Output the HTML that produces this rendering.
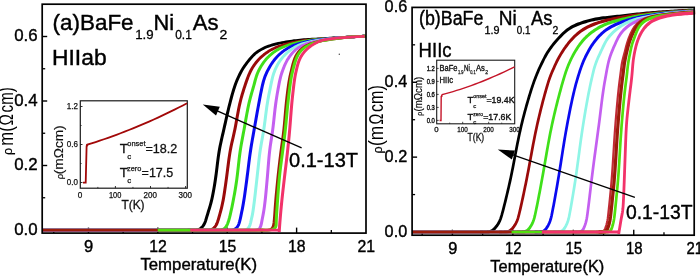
<!DOCTYPE html>
<html lang="en">
<head>
<meta charset="utf-8">
<title>Resistivity vs temperature</title>
<style>
html,body{margin:0;padding:0;background:#fff;}
body{width:700px;height:276px;overflow:hidden;}
svg text{font-family:"Liberation Sans",Arial,sans-serif;}
</style>
</head>
<body>
<svg width="700" height="276" viewBox="0 0 700 276" font-family='"Liberation Sans", Arial, sans-serif' style="display:block">
<rect x="0" y="0" width="700" height="276" fill="#fff"/>
<g id="panelA">
<line x1="88.46" y1="233.1" x2="88.46" y2="227.6" stroke="#000" stroke-width="1.4" />
<line x1="157.84" y1="233.1" x2="157.84" y2="227.6" stroke="#000" stroke-width="1.4" />
<line x1="227.23" y1="233.1" x2="227.23" y2="227.6" stroke="#000" stroke-width="1.4" />
<line x1="296.61" y1="233.1" x2="296.61" y2="227.6" stroke="#000" stroke-width="1.4" />
<line x1="53.76" y1="233.1" x2="53.76" y2="230.1" stroke="#000" stroke-width="1.3" />
<line x1="123.15" y1="233.1" x2="123.15" y2="230.1" stroke="#000" stroke-width="1.3" />
<line x1="192.54" y1="233.1" x2="192.54" y2="230.1" stroke="#000" stroke-width="1.3" />
<line x1="261.92" y1="233.1" x2="261.92" y2="230.1" stroke="#000" stroke-width="1.3" />
<line x1="331.31" y1="233.1" x2="331.31" y2="230.1" stroke="#000" stroke-width="1.3" />
<line x1="42.2" y1="230" x2="47.2" y2="230" stroke="#000" stroke-width="1.4" />
<line x1="42.2" y1="165.5" x2="47.2" y2="165.5" stroke="#000" stroke-width="1.4" />
<line x1="42.2" y1="101" x2="47.2" y2="101" stroke="#000" stroke-width="1.4" />
<line x1="42.2" y1="36.5" x2="47.2" y2="36.5" stroke="#000" stroke-width="1.4" />
<line x1="42.2" y1="197.75" x2="45.2" y2="197.75" stroke="#000" stroke-width="1.3" />
<line x1="42.2" y1="133.25" x2="45.2" y2="133.25" stroke="#000" stroke-width="1.3" />
<line x1="42.2" y1="68.75" x2="45.2" y2="68.75" stroke="#000" stroke-width="1.3" />
<path d="M42,230.2 L190.7,230.2" fill="none" stroke="#000000" stroke-width="2.7"/>
<path transform="scale(1.1,1.0)" d="M170.64,230.2 L173.36,230.2 L175.19,230.2 L177.01,230.14 L178.83,229.94 L180.54,229.48 L182.11,228.61 L183.53,227.3 L184.74,225.73 L185.69,224.05 L186.41,222.27 L187.02,220.36 L187.57,218.41 L188.1,216.47 L188.63,214.55 L189.15,212.64 L189.68,210.72 L190.22,208.81 L190.75,206.9 L191.24,204.98 L191.72,203.06 L192.17,201.12 L192.59,199.18 L192.98,197.23 L193.35,195.27 L193.7,193.31 L194.04,191.34 L194.36,189.37 L194.67,187.4 L194.97,185.42 L195.26,183.44 L195.54,181.47 L195.81,179.49 L196.07,177.51 L196.32,175.53 L196.56,173.54 L196.79,171.56 L197.01,169.57 L197.24,167.58 L197.45,165.6 L197.67,163.61 L197.9,161.62 L198.13,159.64 L198.37,157.66 L198.62,155.68 L198.89,153.7 L199.17,151.73 L199.48,149.76 L199.8,147.8 L200.15,145.84 L200.51,143.88 L200.9,141.93 L201.29,139.97 L201.69,138.02 L202.1,136.07 L202.51,134.12 L202.92,132.17 L203.32,130.22 L203.73,128.27 L204.12,126.31 L204.52,124.36 L204.92,122.41 L205.31,120.46 L205.71,118.5 L206.11,116.55 L206.51,114.6 L206.92,112.65 L207.34,110.7 L207.76,108.76 L208.19,106.82 L208.63,104.88 L209.08,102.94 L209.53,101 L209.99,99.06 L210.46,97.13 L210.95,95.19 L211.44,93.26 L211.95,91.34 L212.48,89.42 L213.03,87.52 L213.61,85.63 L214.22,83.75 L214.87,81.89 L215.55,80.05 L216.27,78.22 L217.02,76.41 L217.8,74.61 L218.61,72.83 L219.46,71.08 L220.37,69.35 L221.33,67.66 L222.34,66.01 L223.4,64.38 L224.49,62.77 L225.62,61.18 L226.76,59.62 L227.94,58.08 L229.15,56.6 L230.41,55.17 L231.72,53.83 L233.11,52.58 L234.56,51.42 L236.07,50.35 L237.64,49.36 L239.25,48.44 L240.9,47.6 L242.57,46.82 L244.26,46.11 L245.98,45.47 L247.71,44.88 L249.46,44.35 L251.22,43.86 L252.99,43.41 L254.77,43 L256.55,42.61 L258.34,42.25 L260.14,41.91 L261.93,41.59 L263.73,41.28 L265.53,41 L267.33,40.73 L269.14,40.49 L270.94,40.26 L272.75,40.06 L274.56,39.89 L276.37,39.73 L278.19,39.59 L280,39.47 L281.82,39.35 L283.63,39.23 L285.45,39.12 L287.26,39.01 L289.08,38.9 L290.9,38.78 L292.71,38.67 L294.53,38.55 L296.34,38.43 L298.16,38.32 L299.97,38.2 L301.79,38.09 L303.6,37.97 L305.42,37.86 L307.23,37.74 L309.05,37.62 L310.86,37.5 L312.68,37.38 L314.49,37.26 L316.31,37.14 L318.12,37.01 L319.93,36.89 L321.74,36.76 L323.53,36.64 L325.3,36.53 L326.99,36.42 L328.57,36.31 L329.98,36.22 L331.18,36.15 L331.44,36.13" fill="none" stroke="#000000" stroke-width="2.75" stroke-linejoin="round"/>
<path d="M42,230.2 L203.9,230.2" fill="none" stroke="#9a0a0a" stroke-width="2.7"/>
<path transform="scale(1.1,1.0)" d="M182.64,230.2 L185.36,230.2 L187.19,230.2 L189.01,230.15 L190.83,229.94 L192.53,229.45 L194.02,228.49 L195.32,227.04 L196.37,225.36 L197.17,223.58 L197.81,221.7 L198.38,219.78 L198.91,217.85 L199.41,215.92 L199.89,213.99 L200.36,212.06 L200.84,210.13 L201.29,208.19 L201.71,206.25 L202.1,204.3 L202.48,202.35 L202.83,200.39 L203.15,198.42 L203.46,196.45 L203.75,194.48 L204.03,192.5 L204.3,190.52 L204.56,188.54 L204.82,186.56 L205.08,184.58 L205.33,182.6 L205.58,180.61 L205.83,178.63 L206.07,176.65 L206.31,174.66 L206.54,172.68 L206.77,170.69 L207,168.71 L207.23,166.72 L207.46,164.73 L207.69,162.75 L207.93,160.77 L208.18,158.79 L208.43,156.81 L208.71,154.83 L208.99,152.86 L209.3,150.89 L209.63,148.93 L209.97,146.97 L210.34,145.02 L210.73,143.06 L211.13,141.11 L211.54,139.16 L211.96,137.21 L212.36,135.26 L212.76,133.31 L213.14,131.35 L213.52,129.4 L213.87,127.43 L214.21,125.47 L214.55,123.5 L214.87,121.53 L215.19,119.56 L215.51,117.59 L215.83,115.61 L216.16,113.65 L216.49,111.68 L216.83,109.72 L217.19,107.76 L217.57,105.8 L217.96,103.86 L218.37,101.92 L218.81,99.98 L219.27,98.05 L219.76,96.12 L220.26,94.2 L220.78,92.29 L221.32,90.38 L221.87,88.47 L222.43,86.56 L223,84.66 L223.58,82.76 L224.17,80.87 L224.78,78.99 L225.41,77.11 L226.08,75.26 L226.79,73.42 L227.56,71.62 L228.39,69.85 L229.29,68.12 L230.26,66.43 L231.28,64.78 L232.36,63.18 L233.49,61.62 L234.68,60.12 L235.92,58.66 L237.21,57.27 L238.55,55.93 L239.94,54.65 L241.38,53.44 L242.86,52.29 L244.38,51.21 L245.94,50.19 L247.53,49.25 L249.16,48.37 L250.81,47.56 L252.49,46.8 L254.19,46.1 L255.91,45.45 L257.64,44.85 L259.38,44.29 L261.14,43.76 L262.9,43.28 L264.67,42.82 L266.45,42.4 L268.23,42 L270.02,41.64 L271.81,41.3 L273.6,41 L275.4,40.72 L277.21,40.47 L279.01,40.23 L280.82,40.02 L282.63,39.82 L284.44,39.63 L286.25,39.45 L288.06,39.28 L289.87,39.11 L291.69,38.96 L293.5,38.81 L295.31,38.66 L297.13,38.52 L298.94,38.38 L300.76,38.25 L302.57,38.11 L304.38,37.98 L306.2,37.85 L308.01,37.72 L309.83,37.59 L311.64,37.46 L313.46,37.33 L315.27,37.21 L317.09,37.08 L318.9,36.95 L320.71,36.83 L322.52,36.71 L324.31,36.59 L326.07,36.47 L327.78,36.36 L329.39,36.26 L330.87,36.17 L331.89,36.1" fill="none" stroke="#9a0a0a" stroke-width="2.75" stroke-linejoin="round"/>
<path d="M42,230.2 L215,230.2" fill="none" stroke="#3fe01a" stroke-width="2.7"/>
<path transform="scale(1.1,1.0)" d="M192.73,230.2 L195.45,230.2 L197.28,230.2 L199.1,230.15 L200.92,229.94 L202.61,229.43 L204.09,228.43 L205.34,226.95 L206.31,225.24 L207.04,223.43 L207.64,221.53 L208.17,219.58 L208.66,217.65 L209.1,215.7 L209.52,213.76 L209.92,211.81 L210.32,209.85 L210.7,207.9 L211.07,205.94 L211.43,203.98 L211.78,202.02 L212.12,200.05 L212.46,198.09 L212.79,196.12 L213.12,194.15 L213.43,192.18 L213.74,190.21 L214.04,188.24 L214.33,186.26 L214.61,184.29 L214.88,182.31 L215.14,180.33 L215.38,178.35 L215.61,176.37 L215.84,174.38 L216.05,172.4 L216.26,170.41 L216.46,168.42 L216.67,166.43 L216.86,164.44 L217.07,162.45 L217.27,160.47 L217.48,158.48 L217.7,156.49 L217.93,154.51 L218.18,152.53 L218.44,150.55 L218.71,148.58 L219,146.6 L219.31,144.63 L219.62,142.67 L219.95,140.7 L220.29,138.73 L220.63,136.77 L220.97,134.8 L221.3,132.83 L221.64,130.87 L221.97,128.9 L222.29,126.93 L222.61,124.96 L222.93,122.99 L223.24,121.02 L223.56,119.04 L223.88,117.07 L224.2,115.1 L224.53,113.14 L224.87,111.17 L225.21,109.21 L225.57,107.25 L225.95,105.3 L226.34,103.35 L226.76,101.41 L227.2,99.47 L227.66,97.54 L228.13,95.61 L228.63,93.68 L229.13,91.76 L229.64,89.84 L230.14,87.92 L230.64,85.99 L231.11,84.06 L231.58,82.13 L232.05,80.2 L232.54,78.28 L233.07,76.38 L233.66,74.5 L234.32,72.65 L235.06,70.84 L235.87,69.06 L236.75,67.31 L237.69,65.61 L238.68,63.94 L239.73,62.31 L240.83,60.73 L241.99,59.2 L243.2,57.72 L244.47,56.31 L245.8,54.95 L247.18,53.66 L248.61,52.44 L250.09,51.29 L251.61,50.22 L253.17,49.22 L254.78,48.3 L256.42,47.45 L258.08,46.67 L259.77,45.94 L261.48,45.27 L263.21,44.66 L264.95,44.08 L266.7,43.55 L268.46,43.06 L270.23,42.6 L272.01,42.17 L273.79,41.76 L275.57,41.39 L277.36,41.05 L279.16,40.73 L280.96,40.44 L282.76,40.18 L284.56,39.94 L286.37,39.72 L288.18,39.51 L289.99,39.32 L291.8,39.13 L293.61,38.95 L295.42,38.78 L297.23,38.61 L299.04,38.45 L300.86,38.3 L302.67,38.15 L304.48,38 L306.3,37.86 L308.11,37.73 L309.93,37.59 L311.74,37.46 L313.55,37.33 L315.37,37.2 L317.18,37.07 L319,36.95 L320.81,36.82 L322.61,36.7 L324.39,36.58 L326.13,36.47 L327.79,36.36 L329.32,36.27 L330.67,36.18 L331.55,36.12" fill="none" stroke="#3fe01a" stroke-width="2.75" stroke-linejoin="round"/>
<path d="M42,230.2 L226.2,230.2" fill="none" stroke="#0a0af0" stroke-width="2.7"/>
<path transform="scale(1.1,1.0)" d="M202.91,230.2 L205.64,230.2 L207.46,230.2 L209.28,230.15 L211.1,229.94 L212.82,229.45 L214.37,228.49 L215.66,227.08 L216.6,225.44 L217.27,223.62 L217.79,221.67 L218.25,219.69 L218.67,217.73 L219.05,215.77 L219.41,213.81 L219.77,211.84 L220.13,209.88 L220.48,207.92 L220.81,205.95 L221.13,203.98 L221.43,202.01 L221.73,200.04 L222.01,198.07 L222.28,196.09 L222.55,194.11 L222.8,192.13 L223.05,190.15 L223.3,188.17 L223.55,186.18 L223.79,184.2 L224.03,182.22 L224.27,180.24 L224.5,178.25 L224.73,176.27 L224.96,174.28 L225.19,172.3 L225.42,170.31 L225.64,168.33 L225.86,166.34 L226.09,164.36 L226.31,162.37 L226.54,160.39 L226.78,158.41 L227.02,156.42 L227.27,154.44 L227.52,152.46 L227.79,150.49 L228.06,148.51 L228.35,146.54 L228.64,144.56 L228.95,142.59 L229.26,140.62 L229.57,138.65 L229.89,136.68 L230.21,134.71 L230.53,132.74 L230.85,130.77 L231.16,128.8 L231.48,126.83 L231.8,124.86 L232.11,122.89 L232.43,120.92 L232.74,118.95 L233.06,116.99 L233.38,115.02 L233.7,113.05 L234.02,111.08 L234.35,109.11 L234.68,107.14 L235.01,105.18 L235.34,103.21 L235.68,101.25 L236.02,99.28 L236.36,97.31 L236.7,95.35 L237.05,93.38 L237.4,91.42 L237.77,89.46 L238.15,87.51 L238.54,85.55 L238.97,83.61 L239.42,81.68 L239.92,79.76 L240.47,77.87 L241.09,76 L241.78,74.16 L242.53,72.35 L243.33,70.56 L244.18,68.79 L245.06,67.05 L245.99,65.33 L246.96,63.65 L247.98,62.01 L249.06,60.4 L250.19,58.85 L251.38,57.34 L252.62,55.89 L253.91,54.49 L255.26,53.16 L256.65,51.89 L258.1,50.7 L259.59,49.57 L261.13,48.53 L262.71,47.56 L264.33,46.67 L265.98,45.85 L267.66,45.11 L269.36,44.44 L271.09,43.82 L272.83,43.26 L274.59,42.74 L276.35,42.26 L278.12,41.81 L279.9,41.39 L281.68,41.01 L283.47,40.66 L285.27,40.34 L287.06,40.06 L288.87,39.8 L290.67,39.56 L292.48,39.34 L294.29,39.14 L296.1,38.94 L297.91,38.75 L299.72,38.57 L301.53,38.39 L303.34,38.21 L305.15,38.04 L306.96,37.88 L308.78,37.72 L310.59,37.57 L312.4,37.43 L314.22,37.29 L316.03,37.15 L317.85,37.03 L319.66,36.9 L321.47,36.78 L323.28,36.66 L325.08,36.54 L326.87,36.42 L328.62,36.31 L330.34,36.2 L332,36.1 L332.41,36.07" fill="none" stroke="#0a0af0" stroke-width="2.75" stroke-linejoin="round"/>
<path d="M42,230.2 L238.9,230.2" fill="none" stroke="#8ff5e6" stroke-width="2.7"/>
<path transform="scale(1.1,1.0)" d="M214.45,230.2 L217.18,230.2 L219,230.2 L220.84,230.15 L222.66,229.94 L224.31,229.38 L225.65,228.22 L226.65,226.55 L227.33,224.71 L227.82,222.78 L228.23,220.81 L228.63,218.83 L229.03,216.87 L229.4,214.92 L229.73,212.95 L230.02,210.98 L230.28,209 L230.53,207.02 L230.77,205.03 L231,203.05 L231.23,201.07 L231.45,199.08 L231.66,197.1 L231.88,195.11 L232.09,193.12 L232.29,191.14 L232.5,189.15 L232.7,187.16 L232.91,185.17 L233.11,183.19 L233.32,181.2 L233.52,179.21 L233.72,177.22 L233.92,175.23 L234.11,173.24 L234.31,171.25 L234.5,169.27 L234.7,167.28 L234.89,165.29 L235.09,163.3 L235.29,161.31 L235.5,159.32 L235.71,157.34 L235.94,155.35 L236.17,153.37 L236.42,151.39 L236.69,149.42 L236.97,147.44 L237.27,145.47 L237.58,143.5 L237.9,141.53 L238.22,139.56 L238.55,137.6 L238.87,135.63 L239.18,133.66 L239.48,131.68 L239.76,129.71 L240.03,127.73 L240.29,125.75 L240.54,123.77 L240.77,121.79 L241.01,119.8 L241.24,117.82 L241.46,115.83 L241.69,113.85 L241.93,111.86 L242.17,109.88 L242.42,107.9 L242.68,105.92 L242.96,103.95 L243.25,101.97 L243.55,100 L243.87,98.04 L244.21,96.07 L244.56,94.11 L244.92,92.15 L245.28,90.19 L245.65,88.23 L246.01,86.27 L246.38,84.31 L246.74,82.35 L247.12,80.4 L247.53,78.45 L247.97,76.52 L248.48,74.61 L249.06,72.72 L249.7,70.86 L250.4,69.02 L251.16,67.21 L251.98,65.43 L252.86,63.7 L253.8,62.01 L254.82,60.36 L255.9,58.77 L257.05,57.24 L258.26,55.75 L259.52,54.31 L260.83,52.93 L262.19,51.61 L263.6,50.36 L265.06,49.18 L266.56,48.08 L268.11,47.06 L269.71,46.14 L271.35,45.29 L273.02,44.54 L274.72,43.86 L276.45,43.25 L278.19,42.71 L279.95,42.22 L281.72,41.78 L283.5,41.38 L285.29,41.02 L287.08,40.69 L288.88,40.38 L290.68,40.09 L292.48,39.82 L294.28,39.57 L296.09,39.32 L297.89,39.09 L299.7,38.86 L301.51,38.64 L303.32,38.42 L305.12,38.21 L306.93,38 L308.74,37.81 L310.55,37.63 L312.36,37.46 L314.17,37.3 L315.99,37.16 L317.8,37.03 L319.62,36.9 L321.43,36.78 L323.24,36.66 L325.05,36.54 L326.85,36.42 L328.63,36.31 L330.4,36.2 L332.13,36.09 L332.56,36.06" fill="none" stroke="#8ff5e6" stroke-width="2.75" stroke-linejoin="round"/>
<path d="M42,230.2 L250.6,230.2" fill="none" stroke="#c45ff0" stroke-width="2.7"/>
<path transform="scale(1.1,1.0)" d="M225.09,230.2 L227.82,230.2 L229.64,230.2 L231.48,230.15 L233.31,229.94 L234.91,229.34 L236.12,228.09 L236.95,226.31 L237.47,224.38 L237.83,222.41 L238.16,220.42 L238.51,218.45 L238.87,216.49 L239.22,214.53 L239.54,212.56 L239.83,210.59 L240.11,208.61 L240.37,206.63 L240.6,204.65 L240.82,202.66 L241.04,200.68 L241.24,198.69 L241.43,196.7 L241.61,194.71 L241.79,192.72 L241.95,190.73 L242.12,188.74 L242.28,186.74 L242.44,184.75 L242.6,182.76 L242.76,180.77 L242.92,178.77 L243.08,176.78 L243.23,174.79 L243.38,172.79 L243.52,170.8 L243.67,168.8 L243.81,166.81 L243.96,164.81 L244.11,162.82 L244.26,160.83 L244.42,158.83 L244.58,156.84 L244.76,154.85 L244.95,152.87 L245.15,150.88 L245.37,148.9 L245.6,146.92 L245.86,144.94 L246.12,142.96 L246.4,140.98 L246.68,139.01 L246.96,137.03 L247.24,135.05 L247.5,133.07 L247.75,131.09 L247.99,129.11 L248.22,127.13 L248.43,125.14 L248.64,123.15 L248.84,121.16 L249.04,119.17 L249.23,117.18 L249.42,115.19 L249.62,113.21 L249.82,111.22 L250.02,109.23 L250.24,107.25 L250.47,105.26 L250.71,103.28 L250.96,101.3 L251.22,99.33 L251.5,97.35 L251.8,95.38 L252.1,93.41 L252.42,91.44 L252.74,89.47 L253.07,87.5 L253.41,85.53 L253.75,83.57 L254.11,81.61 L254.49,79.66 L254.91,77.71 L255.38,75.79 L255.89,73.88 L256.46,71.98 L257.07,70.09 L257.72,68.23 L258.4,66.37 L259.12,64.54 L259.89,62.74 L260.73,60.97 L261.63,59.24 L262.59,57.56 L263.63,55.92 L264.74,54.35 L265.92,52.85 L267.18,51.42 L268.5,50.08 L269.9,48.83 L271.36,47.68 L272.89,46.64 L274.47,45.71 L276.11,44.88 L277.78,44.13 L279.49,43.47 L281.22,42.87 L282.97,42.33 L284.73,41.84 L286.5,41.39 L288.28,40.99 L290.07,40.63 L291.86,40.3 L293.66,40 L295.46,39.72 L297.26,39.46 L299.06,39.2 L300.87,38.95 L302.67,38.7 L304.48,38.46 L306.28,38.23 L308.09,37.99 L309.9,37.77 L311.7,37.57 L313.51,37.39 L315.32,37.22 L317.14,37.08 L318.95,36.94 L320.76,36.82 L322.57,36.7 L324.35,36.58 L326.1,36.47 L327.78,36.36 L329.35,36.26 L330.77,36.17 L331.71,36.11" fill="none" stroke="#c45ff0" stroke-width="2.75" stroke-linejoin="round"/>
<path d="M42,230.2 L263.2,230.2" fill="none" stroke="#9c1c0a" stroke-width="2.7"/>
<path transform="scale(1.1,1.0)" d="M236.54,230.2 L239.27,230.2 L241.1,230.2 L242.93,230.15 L244.76,229.94 L246.38,229.35 L247.63,228.12 L248.45,226.35 L248.9,224.43 L249.16,222.45 L249.35,220.43 L249.52,218.42 L249.67,216.42 L249.8,214.43 L249.93,212.43 L250.05,210.43 L250.17,208.44 L250.3,206.44 L250.44,204.45 L250.59,202.45 L250.73,200.46 L250.88,198.47 L251.04,196.47 L251.2,194.48 L251.36,192.49 L251.53,190.5 L251.7,188.51 L251.87,186.52 L252.05,184.53 L252.23,182.53 L252.41,180.55 L252.6,178.56 L252.78,176.57 L252.98,174.58 L253.18,172.59 L253.38,170.6 L253.58,168.62 L253.79,166.63 L254,164.64 L254.22,162.66 L254.43,160.67 L254.65,158.68 L254.88,156.7 L255.1,154.72 L255.33,152.73 L255.57,150.75 L255.81,148.76 L256.05,146.78 L256.3,144.8 L256.55,142.82 L256.8,140.84 L257.05,138.86 L257.29,136.88 L257.53,134.89 L257.75,132.91 L257.96,130.92 L258.16,128.94 L258.34,126.95 L258.52,124.96 L258.69,122.97 L258.85,120.97 L259,118.98 L259.15,116.99 L259.31,114.99 L259.46,113 L259.61,111.01 L259.77,109.01 L259.94,107.02 L260.11,105.03 L260.29,103.04 L260.48,101.05 L260.68,99.06 L260.88,97.08 L261.09,95.09 L261.32,93.1 L261.54,91.12 L261.78,89.14 L262.03,87.16 L262.29,85.18 L262.56,83.2 L262.86,81.23 L263.18,79.26 L263.52,77.3 L263.9,75.34 L264.3,73.39 L264.72,71.45 L265.14,69.5 L265.57,67.56 L266.01,65.62 L266.48,63.68 L266.98,61.77 L267.55,59.88 L268.19,58.02 L268.93,56.23 L269.79,54.51 L270.77,52.89 L271.87,51.37 L273.1,49.96 L274.45,48.67 L275.88,47.5 L277.4,46.44 L278.98,45.48 L280.61,44.62 L282.27,43.86 L283.98,43.18 L285.7,42.58 L287.45,42.05 L289.21,41.57 L290.99,41.14 L292.77,40.75 L294.56,40.4 L296.35,40.06 L298.15,39.75 L299.95,39.46 L301.75,39.18 L303.55,38.9 L305.35,38.63 L307.15,38.36 L308.95,38.09 L310.75,37.83 L312.55,37.59 L314.36,37.39 L316.17,37.21 L317.98,37.06 L319.79,36.92 L321.61,36.8 L323.42,36.68 L325.22,36.56 L326.99,36.45 L328.73,36.34 L330.42,36.23 L332.02,36.13 L332.79,36.08" fill="none" stroke="#9c1c0a" stroke-width="2.75" stroke-linejoin="round"/>
<path d="M157.7,230.2 L264.5,230.2" fill="none" stroke="#52e00c" stroke-width="2.7"/>
<path transform="scale(1.1,1.0)" d="M237.73,230.2 L240.45,230.2 L242.28,230.2 L244.1,230.15 L245.92,229.94 L247.7,229.46 L249.35,228.56 L250.49,227.23 L250.94,225.57 L251.06,223.63 L251.12,221.54 L251.18,219.45 L251.27,217.42 L251.38,215.42 L251.49,213.42 L251.62,211.43 L251.74,209.43 L251.87,207.44 L252,205.44 L252.12,203.44 L252.25,201.45 L252.38,199.45 L252.51,197.46 L252.64,195.46 L252.77,193.47 L252.91,191.47 L253.04,189.48 L253.18,187.48 L253.33,185.49 L253.48,183.5 L253.64,181.51 L253.81,179.52 L253.98,177.53 L254.17,175.54 L254.36,173.55 L254.57,171.56 L254.78,169.58 L255,167.59 L255.23,165.61 L255.46,163.62 L255.69,161.64 L255.93,159.66 L256.17,157.67 L256.41,155.69 L256.65,153.71 L256.88,151.72 L257.12,149.74 L257.35,147.76 L257.59,145.77 L257.82,143.79 L258.05,141.81 L258.28,139.82 L258.51,137.84 L258.73,135.85 L258.95,133.87 L259.16,131.88 L259.36,129.89 L259.55,127.9 L259.73,125.91 L259.91,123.92 L260.09,121.93 L260.26,119.94 L260.43,117.95 L260.59,115.96 L260.76,113.97 L260.93,111.98 L261.1,109.98 L261.28,107.99 L261.46,106 L261.65,104.02 L261.84,102.03 L262.04,100.04 L262.24,98.05 L262.46,96.07 L262.67,94.08 L262.9,92.1 L263.12,90.11 L263.35,88.13 L263.58,86.14 L263.82,84.16 L264.06,82.18 L264.33,80.2 L264.62,78.23 L264.95,76.27 L265.33,74.32 L265.73,72.38 L266.17,70.44 L266.62,68.5 L267.08,66.57 L267.55,64.64 L268.05,62.71 L268.6,60.81 L269.2,58.93 L269.88,57.11 L270.67,55.35 L271.58,53.67 L272.62,52.1 L273.79,50.63 L275.08,49.27 L276.47,48.03 L277.94,46.9 L279.48,45.87 L281.08,44.95 L282.73,44.12 L284.41,43.38 L286.11,42.72 L287.85,42.13 L289.6,41.62 L291.36,41.17 L293.14,40.76 L294.93,40.41 L296.72,40.08 L298.52,39.78 L300.32,39.49 L302.12,39.22 L303.93,38.94 L305.72,38.66 L307.52,38.37 L309.31,38.08 L311.11,37.8 L312.9,37.55 L314.71,37.33 L316.51,37.14 L318.32,36.99 L320.14,36.86 L321.95,36.73 L323.76,36.62 L325.55,36.5 L327.32,36.39 L329.04,36.28 L330.71,36.18 L332.3,36.08" fill="none" stroke="#52e00c" stroke-width="2.75" stroke-linejoin="round"/>
<path d="M190.3,230.2 L279.3,230.2" fill="none" stroke="#f2326a" stroke-width="2.8"/>
<path transform="scale(1.1,1.0)" d="M252.55,230.5 L253.91,230.5 L254.04,228.2 L254.17,226.21 L254.31,224.22 L254.45,222.22 L254.6,220.23 L254.75,218.23 L254.9,216.24 L255.06,214.25 L255.22,212.26 L255.38,210.26 L255.54,208.27 L255.71,206.28 L255.89,204.29 L256.07,202.3 L256.25,200.31 L256.44,198.32 L256.64,196.34 L256.84,194.35 L257.04,192.36 L257.24,190.37 L257.45,188.38 L257.66,186.4 L257.87,184.41 L258.08,182.42 L258.29,180.44 L258.5,178.45 L258.71,176.46 L258.92,174.48 L259.14,172.49 L259.35,170.51 L259.57,168.52 L259.79,166.53 L260,164.55 L260.22,162.56 L260.44,160.58 L260.65,158.59 L260.86,156.6 L261.07,154.62 L261.27,152.63 L261.47,150.64 L261.67,148.65 L261.86,146.67 L262.05,144.68 L262.24,142.69 L262.42,140.7 L262.6,138.71 L262.78,136.72 L262.95,134.72 L263.11,132.73 L263.27,130.74 L263.43,128.75 L263.58,126.76 L263.73,124.76 L263.87,122.77 L264.01,120.77 L264.15,118.78 L264.28,116.78 L264.42,114.79 L264.56,112.8 L264.7,110.8 L264.85,108.81 L265,106.82 L265.16,104.82 L265.32,102.83 L265.5,100.84 L265.68,98.85 L265.87,96.86 L266.07,94.88 L266.27,92.89 L266.48,90.9 L266.69,88.91 L266.9,86.93 L267.12,84.94 L267.34,82.96 L267.58,80.98 L267.84,79 L268.13,77.03 L268.45,75.07 L268.82,73.11 L269.2,71.16 L269.61,69.22 L270.04,67.28 L270.49,65.35 L271,63.44 L271.57,61.56 L272.24,59.73 L273,57.94 L273.87,56.21 L274.83,54.54 L275.89,52.94 L277.05,51.42 L278.28,49.99 L279.6,48.63 L280.98,47.35 L282.43,46.15 L283.92,45.02 L285.46,43.96 L287.04,42.99 L288.66,42.12 L290.31,41.37 L292.01,40.73 L293.74,40.19 L295.49,39.75 L297.27,39.39 L299.07,39.08 L300.87,38.81 L302.68,38.57 L304.49,38.36 L306.3,38.17 L308.11,37.99 L309.93,37.83 L311.74,37.67 L313.55,37.52 L315.37,37.37 L317.18,37.23 L318.99,37.1 L320.8,36.97 L322.61,36.84 L324.39,36.72 L326.13,36.61 L327.79,36.5 L329.32,36.41 L330.68,36.32 L331.56,36.27" fill="none" stroke="#f2326a" stroke-width="2.75" stroke-linejoin="miter"/>
<circle cx="339.3" cy="54.2" r="0.7" fill="#444"/>
<rect x="42.2" y="4.2" width="323.8" height="228.9" fill="none" stroke="#000" stroke-width="1.7"/>
<text x="37.6" y="234.7" font-size="17" text-anchor="end" fill="#000" stroke="#000" stroke-width="0.4" textLength="23.4" lengthAdjust="spacingAndGlyphs" >0.0</text>
<text x="37.6" y="170.2" font-size="17" text-anchor="end" fill="#000" stroke="#000" stroke-width="0.4" textLength="23.4" lengthAdjust="spacingAndGlyphs" >0.2</text>
<text x="37.6" y="105.7" font-size="17" text-anchor="end" fill="#000" stroke="#000" stroke-width="0.4" textLength="23.4" lengthAdjust="spacingAndGlyphs" >0.4</text>
<text x="37.6" y="41.2" font-size="17" text-anchor="end" fill="#000" stroke="#000" stroke-width="0.4" textLength="23.4" lengthAdjust="spacingAndGlyphs" >0.6</text>
<text x="88.66" y="251.7" font-size="16.6" text-anchor="middle" fill="#000" stroke="#000" stroke-width="0.4" >9</text>
<text x="158.04" y="251.7" font-size="16.6" text-anchor="middle" fill="#000" stroke="#000" stroke-width="0.4" textLength="17.6" lengthAdjust="spacingAndGlyphs" >12</text>
<text x="227.43" y="251.7" font-size="16.6" text-anchor="middle" fill="#000" stroke="#000" stroke-width="0.4" textLength="17.6" lengthAdjust="spacingAndGlyphs" >15</text>
<text x="296.81" y="251.7" font-size="16.6" text-anchor="middle" fill="#000" stroke="#000" stroke-width="0.4" textLength="17.6" lengthAdjust="spacingAndGlyphs" >18</text>
<text x="366.2" y="251.7" font-size="16.6" text-anchor="middle" fill="#000" stroke="#000" stroke-width="0.4" textLength="17.6" lengthAdjust="spacingAndGlyphs" >21</text>
<text x="198.7" y="269.6" font-size="16.8" text-anchor="middle" fill="#000" stroke="#000" stroke-width="0.4" textLength="116.6" lengthAdjust="spacingAndGlyphs" >Temperature(K)</text>
<g transform="translate(12.2,155) rotate(-90)">
<text x="0" y="0" font-size="12.5" text-anchor="start" fill="#000" stroke="#000" stroke-width="0.15" >ρ</text>
</g>
<g transform="translate(12.6,145.7) rotate(-90)">
<text x="0" y="0" font-size="20.5" text-anchor="start" fill="#000" stroke="#000" stroke-width="0.0" textLength="19.4" lengthAdjust="spacingAndGlyphs" >m(</text>
</g>
<g transform="translate(12.6,125.6) rotate(-90)">
<text x="0" y="0" font-size="20.5" text-anchor="start" fill="#000" stroke="#000" stroke-width="0.0" textLength="11.4" lengthAdjust="spacingAndGlyphs" >Ω</text>
</g>
<g transform="translate(12.6,112.4) rotate(-90)">
<text x="0" y="0" font-size="20.5" text-anchor="start" fill="#000" stroke="#000" stroke-width="0.0" textLength="25.2" lengthAdjust="spacingAndGlyphs" >cm)</text>
</g>
<text x="52.6" y="29.6" font-size="21.4" text-anchor="start" fill="#000" stroke="#000" stroke-width="0.4" textLength="81" lengthAdjust="spacingAndGlyphs" >(a)BaFe</text>
<text x="135.2" y="38.7" font-size="13.4" text-anchor="start" fill="#000" stroke="#000" stroke-width="0.3" textLength="18.4" lengthAdjust="spacingAndGlyphs" >1.9</text>
<text x="153.6" y="29.6" font-size="21.4" text-anchor="start" fill="#000" stroke="#000" stroke-width="0.4" textLength="20.6" lengthAdjust="spacingAndGlyphs" >Ni</text>
<text x="175.2" y="38.7" font-size="13.4" text-anchor="start" fill="#000" stroke="#000" stroke-width="0.3" textLength="16.6" lengthAdjust="spacingAndGlyphs" >0.1</text>
<text x="192.8" y="29.6" font-size="21.4" text-anchor="start" fill="#000" stroke="#000" stroke-width="0.4" textLength="25.8" lengthAdjust="spacingAndGlyphs" >As</text>
<text x="219.4" y="38.7" font-size="13.4" text-anchor="start" fill="#000" stroke="#000" stroke-width="0.3" textLength="7.8" lengthAdjust="spacingAndGlyphs" >2</text>
<text x="52" y="65.1" font-size="21.4" text-anchor="start" fill="#000" stroke="#000" stroke-width="0.4" textLength="54.6" lengthAdjust="spacingAndGlyphs" >HIIab</text>
<line x1="301.6" y1="147.9" x2="216.08" y2="110.42" stroke="#000" stroke-width="1.3" />
<polygon points="202.8,104.6 219.82,106.87 216.01,115.57" fill="#000"/>
<text x="289" y="166.7" font-size="20.8" text-anchor="start" fill="#000" stroke="#000" stroke-width="0.4" textLength="69" lengthAdjust="spacingAndGlyphs" >0.1-13T</text>
<rect x="80.3" y="100.8" width="107" height="87.4" fill="#fff" stroke="#1a1a1a" stroke-width="1.2"/>
<line x1="115.4" y1="188.2" x2="115.4" y2="186" stroke="#1a1a1a" stroke-width="0.9" />
<line x1="150.5" y1="188.2" x2="150.5" y2="186" stroke="#1a1a1a" stroke-width="0.9" />
<line x1="185.6" y1="188.2" x2="185.6" y2="186" stroke="#1a1a1a" stroke-width="0.9" />
<line x1="97.85" y1="188.2" x2="97.85" y2="186.9" stroke="#1a1a1a" stroke-width="0.8" />
<line x1="132.95" y1="188.2" x2="132.95" y2="186.9" stroke="#1a1a1a" stroke-width="0.8" />
<line x1="168.05" y1="188.2" x2="168.05" y2="186.9" stroke="#1a1a1a" stroke-width="0.8" />
<line x1="80.3" y1="182.5" x2="82.5" y2="182.5" stroke="#1a1a1a" stroke-width="0.9" />
<line x1="80.3" y1="144.5" x2="82.5" y2="144.5" stroke="#1a1a1a" stroke-width="0.9" />
<line x1="80.3" y1="106.5" x2="82.5" y2="106.5" stroke="#1a1a1a" stroke-width="0.9" />
<line x1="80.3" y1="163.5" x2="81.6" y2="163.5" stroke="#1a1a1a" stroke-width="0.8" />
<line x1="80.3" y1="125.5" x2="81.6" y2="125.5" stroke="#1a1a1a" stroke-width="0.8" />
<text x="78" y="185" font-size="8.6" text-anchor="end" fill="#111" stroke="#111" stroke-width="0.25" textLength="11.2" lengthAdjust="spacingAndGlyphs" >0.0</text>
<text x="78" y="147" font-size="8.6" text-anchor="end" fill="#111" stroke="#111" stroke-width="0.25" textLength="11.2" lengthAdjust="spacingAndGlyphs" >0.6</text>
<text x="78" y="109" font-size="8.6" text-anchor="end" fill="#111" stroke="#111" stroke-width="0.25" textLength="11.2" lengthAdjust="spacingAndGlyphs" >1.2</text>
<text x="80" y="197.8" font-size="8.2" text-anchor="middle" fill="#111" stroke="#111" stroke-width="0.25" >0</text>
<text x="115.1" y="197.8" font-size="8.2" text-anchor="middle" fill="#111" stroke="#111" stroke-width="0.25" textLength="12.4" lengthAdjust="spacingAndGlyphs" >100</text>
<text x="150.2" y="197.8" font-size="8.2" text-anchor="middle" fill="#111" stroke="#111" stroke-width="0.25" textLength="13.4" lengthAdjust="spacingAndGlyphs" >200</text>
<text x="185.3" y="197.8" font-size="8.2" text-anchor="middle" fill="#111" stroke="#111" stroke-width="0.25" textLength="13.4" lengthAdjust="spacingAndGlyphs" >300</text>
<text x="133" y="208.7" font-size="13.2" text-anchor="middle" fill="#111" stroke="#111" stroke-width="0.3" textLength="23.2" lengthAdjust="spacingAndGlyphs" >T(K)</text>
<g transform="translate(62.8,179.3) rotate(-90)">
<text x="0" y="0" font-size="9.6" text-anchor="start" fill="#111" stroke="#111" stroke-width="0.15" >ρ</text>
</g>
<g transform="translate(63.4,174.2) rotate(-90)">
<text x="0" y="0" font-size="13.2" text-anchor="start" fill="#111" stroke="#111" stroke-width="0.15" textLength="48.8" lengthAdjust="spacingAndGlyphs" >(mΩcm)</text>
</g>
<path d="M83,182.7 L85.7,182.7 L86.6,146.5 L87.6,144.6" fill="none" stroke="#a20808" stroke-width="1.8" stroke-linejoin="miter" />
<path d="M86.6,146 L87,144.9 L87.3,144.64 L91.45,143.35 L95.61,142.02 L99.76,140.65 L103.92,139.25 L108.07,137.81 L112.22,136.33 L116.38,134.81 L120.53,133.25 L124.69,131.66 L128.84,130.03 L133,128.36 L137.15,126.66 L141.3,124.92 L145.46,123.14 L149.61,121.32 L153.77,119.47 L157.92,117.58 L162.07,115.65 L166.23,113.68 L170.38,111.68 L174.54,109.64 L178.69,107.56 L182.85,105.44 L187,103.29" fill="none" stroke="#a20808" stroke-width="1.8" stroke-linejoin="miter" />
<text x="119.8" y="153.2" font-size="13" text-anchor="start" fill="#111" stroke="#111" stroke-width="0.3" textLength="8.2" lengthAdjust="spacingAndGlyphs" >T</text>
<text x="127.3" y="146.3" font-size="8" text-anchor="start" fill="#111" stroke="#111" stroke-width="0.25" textLength="18.2" lengthAdjust="spacingAndGlyphs" >onset</text>
<text x="127.3" y="158.6" font-size="8" text-anchor="start" fill="#111" stroke="#111" stroke-width="0.25" >c</text>
<text x="145.4" y="153.2" font-size="13" text-anchor="start" fill="#111" stroke="#111" stroke-width="0.3" textLength="31.8" lengthAdjust="spacingAndGlyphs" >=18.2</text>
<text x="119.8" y="176.7" font-size="13" text-anchor="start" fill="#111" stroke="#111" stroke-width="0.3" textLength="8.2" lengthAdjust="spacingAndGlyphs" >T</text>
<text x="127" y="170.6" font-size="8" text-anchor="start" fill="#111" stroke="#111" stroke-width="0.25" textLength="14.4" lengthAdjust="spacingAndGlyphs" >zero</text>
<text x="127.3" y="182.8" font-size="8" text-anchor="start" fill="#111" stroke="#111" stroke-width="0.25" >c</text>
<text x="141.6" y="176.7" font-size="13" text-anchor="start" fill="#111" stroke="#111" stroke-width="0.3" textLength="31.6" lengthAdjust="spacingAndGlyphs" >=17.5</text>
</g>
<g id="panelB">
<line x1="452.4" y1="235.2" x2="452.4" y2="229.7" stroke="#000" stroke-width="1.4" />
<line x1="512.85" y1="235.2" x2="512.85" y2="229.7" stroke="#000" stroke-width="1.4" />
<line x1="573.3" y1="235.2" x2="573.3" y2="229.7" stroke="#000" stroke-width="1.4" />
<line x1="633.75" y1="235.2" x2="633.75" y2="229.7" stroke="#000" stroke-width="1.4" />
<line x1="422.18" y1="235.2" x2="422.18" y2="232.2" stroke="#000" stroke-width="1.3" />
<line x1="482.62" y1="235.2" x2="482.62" y2="232.2" stroke="#000" stroke-width="1.3" />
<line x1="543.08" y1="235.2" x2="543.08" y2="232.2" stroke="#000" stroke-width="1.3" />
<line x1="603.53" y1="235.2" x2="603.53" y2="232.2" stroke="#000" stroke-width="1.3" />
<line x1="663.98" y1="235.2" x2="663.98" y2="232.2" stroke="#000" stroke-width="1.3" />
<line x1="412.1" y1="232" x2="417.1" y2="232" stroke="#000" stroke-width="1.4" />
<line x1="412.1" y1="157.13" x2="417.1" y2="157.13" stroke="#000" stroke-width="1.4" />
<line x1="412.1" y1="82.27" x2="417.1" y2="82.27" stroke="#000" stroke-width="1.4" />
<line x1="412.1" y1="194.57" x2="415.1" y2="194.57" stroke="#000" stroke-width="1.3" />
<line x1="412.1" y1="119.7" x2="415.1" y2="119.7" stroke="#000" stroke-width="1.3" />
<line x1="412.1" y1="44.83" x2="415.1" y2="44.83" stroke="#000" stroke-width="1.3" />
<path d="M412,232 L483.03,232" fill="none" stroke="#000000" stroke-width="2.7"/>
<path transform="scale(1.0,1.2)" d="M480.03,193.33 L483.03,193.33 L485.03,193.33 L487.04,193.29 L489.02,193.14 L490.86,192.74 L492.55,191.96 L494.11,190.83 L495.52,189.54 L496.78,188.23 L497.92,186.86 L498.95,185.41 L499.85,183.9 L500.57,182.36 L501.2,180.79 L501.77,179.19 L502.3,177.58 L502.82,175.97 L503.33,174.35 L503.83,172.73 L504.32,171.12 L504.81,169.5 L505.29,167.88 L505.76,166.26 L506.23,164.64 L506.7,163.02 L507.16,161.4 L507.62,159.77 L508.07,158.15 L508.53,156.53 L508.97,154.9 L509.41,153.28 L509.85,151.65 L510.28,150.02 L510.7,148.39 L511.11,146.76 L511.52,145.13 L511.92,143.5 L512.31,141.86 L512.7,140.22 L513.08,138.59 L513.46,136.95 L513.84,135.31 L514.21,133.67 L514.59,132.03 L514.96,130.39 L515.33,128.75 L515.7,127.12 L516.08,125.48 L516.45,123.84 L516.83,122.2 L517.22,120.57 L517.61,118.93 L518,117.3 L518.4,115.66 L518.8,114.03 L519.22,112.4 L519.64,110.78 L520.07,109.15 L520.51,107.53 L520.96,105.91 L521.41,104.29 L521.88,102.67 L522.36,101.05 L522.84,99.44 L523.33,97.82 L523.83,96.21 L524.34,94.59 L524.85,92.98 L525.37,91.37 L525.91,89.76 L526.44,88.15 L526.99,86.55 L527.54,84.94 L528.11,83.34 L528.68,81.74 L529.26,80.14 L529.84,78.55 L530.44,76.96 L531.04,75.37 L531.66,73.78 L532.28,72.2 L532.92,70.62 L533.58,69.05 L534.25,67.48 L534.94,65.92 L535.66,64.37 L536.39,62.82 L537.14,61.27 L537.91,59.73 L538.7,58.21 L539.52,56.69 L540.36,55.18 L541.22,53.67 L542.09,52.17 L542.97,50.68 L543.87,49.19 L544.79,47.71 L545.75,46.26 L546.74,44.82 L547.79,43.4 L548.88,42 L550.02,40.63 L551.2,39.27 L552.41,37.94 L553.65,36.63 L554.93,35.33 L556.23,34.06 L557.55,32.8 L558.9,31.57 L560.28,30.35 L561.69,29.15 L563.14,27.98 L564.62,26.85 L566.14,25.78 L567.71,24.76 L569.32,23.82 L570.99,22.95 L572.71,22.15 L574.48,21.42 L576.29,20.74 L578.14,20.12 L580.02,19.53 L581.92,18.98 L583.83,18.46 L585.75,17.97 L587.67,17.5 L589.6,17.07 L591.55,16.67 L593.49,16.3 L595.45,15.98 L597.41,15.68 L599.38,15.42 L601.35,15.19 L603.34,14.98 L605.32,14.79 L607.31,14.6 L609.3,14.43 L611.29,14.26 L613.29,14.08 L615.28,13.91 L617.27,13.73 L619.26,13.54 L621.25,13.34 L623.23,13.14 L625.22,12.94 L627.2,12.74 L629.19,12.54 L631.18,12.36 L633.17,12.18 L635.16,12 L637.15,11.84 L639.14,11.67 L641.13,11.51 L643.12,11.35 L645.11,11.18 L647.1,11.03 L649.09,10.87 L651.08,10.72 L653.07,10.58 L655.07,10.45 L657.06,10.31 L659.05,10.19 L661.05,10.06 L663.04,9.94 L665.04,9.83 L667.03,9.71 L669.03,9.6 L671.03,9.49 L673.02,9.39 L675.02,9.29 L677.01,9.19 L679.01,9.1 L681,9.01 L682.99,8.92 L684.95,8.84 L686.86,8.77 L688.66,8.7 L690.29,8.64 L691.68,8.59 L692.77,8.56" fill="none" stroke="#000000" stroke-width="2.7" stroke-linejoin="round"/>
<path d="M412,232 L502.07,232" fill="none" stroke="#9a0a0a" stroke-width="2.7"/>
<path transform="scale(1.0,1.2)" d="M499.07,193.33 L502.07,193.33 L504.07,193.32 L506.08,193.26 L508,193.02 L509.74,192.44 L511.31,191.42 L512.71,190.11 L513.95,188.74 L515.05,187.35 L516.04,185.88 L516.9,184.36 L517.63,182.81 L518.21,181.23 L518.73,179.62 L519.22,178 L519.68,176.37 L520.14,174.75 L520.59,173.12 L521.04,171.49 L521.47,169.87 L521.91,168.24 L522.33,166.61 L522.76,164.98 L523.17,163.35 L523.59,161.72 L524,160.09 L524.41,158.46 L524.82,156.83 L525.22,155.19 L525.63,153.56 L526.02,151.93 L526.42,150.29 L526.81,148.66 L527.19,147.02 L527.57,145.39 L527.95,143.75 L528.32,142.11 L528.69,140.47 L529.06,138.83 L529.42,137.19 L529.79,135.55 L530.15,133.91 L530.51,132.27 L530.87,130.63 L531.23,128.99 L531.59,127.35 L531.95,125.71 L532.32,124.07 L532.69,122.43 L533.06,120.8 L533.43,119.16 L533.81,117.52 L534.2,115.89 L534.58,114.25 L534.98,112.62 L535.38,110.99 L535.79,109.36 L536.2,107.73 L536.62,106.1 L537.05,104.48 L537.49,102.85 L537.93,101.23 L538.38,99.6 L538.84,97.98 L539.3,96.36 L539.77,94.74 L540.24,93.12 L540.72,91.5 L541.21,89.88 L541.7,88.27 L542.2,86.65 L542.7,85.04 L543.21,83.42 L543.73,81.81 L544.25,80.2 L544.78,78.59 L545.32,76.99 L545.86,75.38 L546.41,73.78 L546.97,72.18 L547.53,70.58 L548.12,68.99 L548.72,67.4 L549.35,65.82 L550.03,64.26 L550.74,62.7 L551.49,61.16 L552.26,59.63 L553.06,58.1 L553.87,56.57 L554.69,55.05 L555.52,53.54 L556.37,52.03 L557.26,50.54 L558.17,49.06 L559.13,47.6 L560.13,46.14 L561.16,44.7 L562.23,43.28 L563.32,41.87 L564.45,40.48 L565.61,39.11 L566.8,37.77 L568.02,36.45 L569.27,35.16 L570.56,33.9 L571.89,32.66 L573.26,31.46 L574.67,30.28 L576.13,29.14 L577.64,28.04 L579.19,26.99 L580.78,25.99 L582.42,25.04 L584.09,24.16 L585.81,23.33 L587.57,22.55 L589.36,21.82 L591.19,21.14 L593.04,20.5 L594.9,19.9 L596.79,19.33 L598.68,18.8 L600.59,18.3 L602.51,17.83 L604.44,17.39 L606.38,16.98 L608.32,16.59 L610.28,16.23 L612.23,15.89 L614.19,15.56 L616.16,15.25 L618.13,14.95 L620.1,14.66 L622.07,14.37 L624.04,14.09 L626.01,13.82 L627.99,13.56 L629.97,13.31 L631.94,13.07 L633.93,12.85 L635.91,12.63 L637.89,12.43 L639.88,12.24 L641.87,12.05 L643.86,11.88 L645.85,11.71 L647.84,11.55 L649.83,11.39 L651.82,11.24 L653.81,11.09 L655.8,10.94 L657.8,10.8 L659.79,10.66 L661.78,10.51 L663.78,10.38 L665.77,10.24 L667.76,10.12 L669.76,9.99 L671.75,9.88 L673.75,9.76 L675.74,9.66 L677.74,9.55 L679.73,9.45 L681.73,9.36 L683.71,9.27 L685.69,9.18 L687.63,9.1 L689.5,9.02 L691.29,8.95 L692.96,8.89 L693.74,8.87" fill="none" stroke="#9a0a0a" stroke-width="2.7" stroke-linejoin="round"/>
<path d="M412,232 L519.9,232" fill="none" stroke="#3fe01a" stroke-width="2.7"/>
<path transform="scale(1.0,1.2)" d="M516.9,193.33 L519.9,193.33 L521.91,193.32 L523.9,193.21 L525.75,192.86 L527.37,192.07 L528.8,190.85 L530.05,189.44 L531.13,188.01 L532.09,186.54 L532.93,185.01 L533.65,183.45 L534.25,181.87 L534.74,180.26 L535.18,178.63 L535.6,176.99 L536.02,175.36 L536.43,173.72 L536.83,172.09 L537.22,170.45 L537.62,168.82 L538,167.18 L538.39,165.55 L538.77,163.91 L539.14,162.27 L539.52,160.64 L539.89,159 L540.25,157.36 L540.62,155.72 L540.98,154.08 L541.35,152.44 L541.71,150.8 L542.07,149.16 L542.42,147.52 L542.78,145.88 L543.13,144.24 L543.48,142.6 L543.82,140.96 L544.17,139.32 L544.51,137.67 L544.85,136.03 L545.19,134.39 L545.53,132.74 L545.87,131.1 L546.21,129.45 L546.55,127.81 L546.9,126.17 L547.24,124.53 L547.59,122.89 L547.95,121.24 L548.3,119.6 L548.66,117.97 L549.03,116.33 L549.4,114.69 L549.77,113.05 L550.15,111.42 L550.54,109.79 L550.94,108.15 L551.34,106.52 L551.75,104.89 L552.16,103.27 L552.59,101.64 L553.02,100.01 L553.46,98.39 L553.91,96.76 L554.36,95.14 L554.82,93.52 L555.29,91.9 L555.76,90.28 L556.24,88.66 L556.73,87.04 L557.22,85.42 L557.71,83.81 L558.22,82.19 L558.72,80.58 L559.23,78.97 L559.75,77.36 L560.27,75.75 L560.79,74.14 L561.32,72.53 L561.86,70.92 L562.4,69.32 L562.95,67.72 L563.52,66.12 L564.09,64.52 L564.68,62.93 L565.29,61.34 L565.92,59.76 L566.58,58.19 L567.26,56.62 L567.98,55.07 L568.74,53.53 L569.54,52 L570.37,50.48 L571.24,48.97 L572.15,47.48 L573.09,45.99 L574.07,44.51 L575.08,43.05 L576.12,41.6 L577.19,40.18 L578.3,38.79 L579.44,37.43 L580.62,36.1 L581.85,34.81 L583.12,33.56 L584.45,32.34 L585.83,31.16 L587.27,30.02 L588.76,28.92 L590.31,27.86 L591.9,26.83 L593.53,25.85 L595.18,24.91 L596.87,24.02 L598.59,23.16 L600.33,22.35 L602.11,21.58 L603.91,20.86 L605.74,20.19 L607.59,19.57 L609.46,19.01 L611.36,18.5 L613.27,18.03 L615.2,17.59 L617.14,17.18 L619.08,16.78 L621.03,16.39 L622.98,16.01 L624.93,15.64 L626.88,15.27 L628.84,14.92 L630.79,14.57 L632.75,14.23 L634.71,13.91 L636.68,13.6 L638.65,13.31 L640.62,13.03 L642.6,12.78 L644.57,12.55 L646.56,12.33 L648.54,12.12 L650.53,11.92 L652.51,11.74 L654.5,11.55 L656.49,11.38 L658.48,11.2 L660.47,11.04 L662.46,10.88 L664.45,10.72 L666.45,10.58 L668.44,10.43 L670.43,10.3 L672.43,10.17 L674.42,10.05 L676.41,9.93 L678.41,9.82 L680.4,9.71 L682.39,9.61 L684.37,9.51 L686.31,9.42 L688.18,9.34 L689.93,9.26 L691.5,9.2 L692.85,9.15 L693.14,9.14" fill="none" stroke="#3fe01a" stroke-width="2.7" stroke-linejoin="round"/>
<path d="M412,232 L537.59,232" fill="none" stroke="#0a0af0" stroke-width="2.7"/>
<path transform="scale(1.0,1.2)" d="M534.59,193.33 L537.59,193.33 L539.59,193.31 L541.57,193.17 L543.36,192.73 L544.89,191.8 L546.22,190.47 L547.37,189.01 L548.36,187.54 L549.23,186.03 L549.98,184.47 L550.61,182.89 L551.14,181.29 L551.58,179.67 L551.98,178.03 L552.37,176.39 L552.75,174.75 L553.13,173.11 L553.51,171.47 L553.87,169.83 L554.24,168.19 L554.6,166.55 L554.96,164.91 L555.31,163.27 L555.66,161.63 L556.01,159.99 L556.35,158.35 L556.7,156.71 L557.04,155.07 L557.38,153.42 L557.71,151.78 L558.05,150.14 L558.38,148.49 L558.7,146.85 L559.03,145.2 L559.35,143.56 L559.67,141.91 L559.98,140.27 L560.29,138.62 L560.61,136.97 L560.92,135.32 L561.22,133.68 L561.53,132.03 L561.84,130.38 L562.15,128.74 L562.46,127.09 L562.77,125.44 L563.08,123.79 L563.4,122.15 L563.72,120.5 L564.04,118.86 L564.36,117.21 L564.69,115.57 L565.02,113.93 L565.36,112.28 L565.7,110.64 L566.05,109 L566.4,107.36 L566.76,105.73 L567.12,104.09 L567.49,102.45 L567.86,100.81 L568.24,99.17 L568.61,97.53 L568.99,95.9 L569.38,94.26 L569.77,92.62 L570.16,90.99 L570.56,89.35 L570.97,87.72 L571.38,86.08 L571.8,84.45 L572.22,82.82 L572.66,81.19 L573.1,79.57 L573.55,77.94 L574.01,76.32 L574.48,74.71 L574.97,73.09 L575.47,71.48 L575.98,69.87 L576.52,68.27 L577.07,66.67 L577.64,65.07 L578.22,63.48 L578.81,61.89 L579.42,60.3 L580.03,58.71 L580.67,57.13 L581.34,55.56 L582.03,54 L582.76,52.45 L583.53,50.91 L584.34,49.37 L585.18,47.85 L586.06,46.34 L586.97,44.84 L587.92,43.35 L588.89,41.87 L589.9,40.42 L590.95,38.99 L592.03,37.59 L593.14,36.22 L594.3,34.89 L595.5,33.58 L596.75,32.3 L598.06,31.05 L599.42,29.84 L600.84,28.66 L602.32,27.52 L603.84,26.43 L605.41,25.4 L607.02,24.43 L608.68,23.52 L610.38,22.67 L612.13,21.89 L613.91,21.15 L615.73,20.46 L617.57,19.8 L619.43,19.18 L621.31,18.58 L623.19,18.01 L625.08,17.47 L626.99,16.96 L628.9,16.47 L630.82,16.01 L632.75,15.58 L634.69,15.18 L636.64,14.8 L638.59,14.45 L640.55,14.12 L642.52,13.82 L644.49,13.53 L646.46,13.27 L648.44,13.01 L650.41,12.76 L652.39,12.53 L654.38,12.29 L656.36,12.06 L658.34,11.84 L660.32,11.62 L662.31,11.42 L664.3,11.22 L666.28,11.03 L668.27,10.85 L670.26,10.68 L672.25,10.53 L674.24,10.38 L676.23,10.25 L678.22,10.12 L680.22,10 L682.21,9.88 L684.19,9.78 L686.16,9.68 L688.09,9.59 L689.96,9.51 L691.74,9.44 L693.4,9.38 L693.79,9.37" fill="none" stroke="#0a0af0" stroke-width="2.7" stroke-linejoin="round"/>
<path d="M412,232 L556.24,232" fill="none" stroke="#8ff5e6" stroke-width="2.7"/>
<path transform="scale(1.0,1.2)" d="M553.24,193.33 L556.24,193.33 L558.25,193.3 L560.19,193.12 L561.91,192.58 L563.36,191.52 L564.59,190.1 L565.64,188.6 L566.54,187.1 L567.33,185.56 L568.01,183.98 L568.57,182.38 L569.04,180.77 L569.43,179.14 L569.8,177.49 L570.16,175.85 L570.52,174.2 L570.87,172.56 L571.22,170.92 L571.56,169.28 L571.9,167.64 L572.24,165.99 L572.57,164.35 L572.9,162.71 L573.23,161.06 L573.56,159.42 L573.88,157.77 L574.2,156.13 L574.52,154.48 L574.83,152.84 L575.14,151.19 L575.44,149.54 L575.74,147.89 L576.03,146.24 L576.32,144.59 L576.6,142.94 L576.88,141.29 L577.15,139.64 L577.42,137.99 L577.69,136.34 L577.96,134.69 L578.22,133.03 L578.49,131.38 L578.75,129.73 L579.02,128.08 L579.28,126.42 L579.54,124.77 L579.81,123.12 L580.08,121.47 L580.35,119.82 L580.62,118.17 L580.89,116.51 L581.17,114.86 L581.46,113.21 L581.74,111.57 L582.03,109.92 L582.33,108.27 L582.63,106.62 L582.94,104.98 L583.25,103.33 L583.57,101.69 L583.89,100.04 L584.21,98.39 L584.53,96.75 L584.86,95.11 L585.2,93.46 L585.53,91.82 L585.87,90.17 L586.22,88.53 L586.57,86.89 L586.92,85.25 L587.28,83.61 L587.65,81.97 L588.02,80.33 L588.39,78.69 L588.77,77.06 L589.16,75.42 L589.56,73.79 L589.96,72.16 L590.38,70.53 L590.81,68.9 L591.24,67.28 L591.68,65.65 L592.13,64.03 L592.58,62.4 L593.04,60.78 L593.51,59.16 L594.01,57.55 L594.56,55.95 L595.15,54.37 L595.79,52.79 L596.48,51.24 L597.22,49.69 L598,48.16 L598.82,46.64 L599.65,45.13 L600.5,43.62 L601.36,42.11 L602.21,40.6 L603.05,39.09 L603.91,37.58 L604.79,36.1 L605.73,34.66 L606.76,33.25 L607.87,31.9 L609.09,30.6 L610.39,29.34 L611.76,28.12 L613.18,26.94 L614.64,25.8 L616.14,24.69 L617.68,23.62 L619.26,22.61 L620.88,21.66 L622.56,20.77 L624.28,19.94 L626.05,19.18 L627.85,18.47 L629.69,17.83 L631.55,17.24 L633.44,16.71 L635.35,16.22 L637.27,15.78 L639.21,15.39 L641.16,15.02 L643.12,14.69 L645.08,14.37 L647.05,14.08 L649.02,13.79 L650.99,13.5 L652.96,13.22 L654.94,12.94 L656.91,12.67 L658.89,12.4 L660.86,12.14 L662.84,11.88 L664.82,11.64 L666.8,11.41 L668.78,11.2 L670.76,11.01 L672.75,10.83 L674.74,10.67 L676.73,10.52 L678.72,10.38 L680.71,10.24 L682.7,10.12 L684.68,10.01 L686.64,9.91 L688.56,9.82 L690.41,9.74 L692.17,9.67 L693.81,9.62" fill="none" stroke="#8ff5e6" stroke-width="2.7" stroke-linejoin="round"/>
<path d="M412,232 L577.2,232" fill="none" stroke="#c45ff0" stroke-width="2.7"/>
<path transform="scale(1.0,1.2)" d="M574.2,193.33 L577.2,193.33 L579.19,193.26 L581.02,192.94 L582.45,192.07 L583.53,190.65 L584.38,189.02 L585.09,187.43 L585.7,185.83 L586.21,184.21 L586.63,182.58 L586.98,180.94 L587.28,179.3 L587.54,177.64 L587.8,175.98 L588.06,174.33 L588.31,172.67 L588.56,171.02 L588.81,169.37 L589.06,167.71 L589.3,166.06 L589.54,164.4 L589.77,162.75 L590.01,161.09 L590.24,159.44 L590.47,157.78 L590.7,156.13 L590.93,154.47 L591.17,152.82 L591.4,151.16 L591.65,149.51 L591.89,147.85 L592.14,146.2 L592.39,144.55 L592.64,142.89 L592.9,141.24 L593.15,139.59 L593.41,137.93 L593.67,136.28 L593.93,134.63 L594.2,132.98 L594.46,131.32 L594.73,129.67 L595,128.02 L595.26,126.37 L595.53,124.72 L595.8,123.07 L596.07,121.41 L596.34,119.76 L596.61,118.11 L596.88,116.46 L597.15,114.81 L597.41,113.16 L597.68,111.5 L597.95,109.85 L598.22,108.2 L598.48,106.55 L598.74,104.9 L599,103.24 L599.26,101.59 L599.51,99.94 L599.76,98.28 L600.01,96.63 L600.25,94.97 L600.5,93.32 L600.74,91.66 L600.99,90.01 L601.24,88.35 L601.48,86.7 L601.74,85.04 L601.99,83.39 L602.25,81.74 L602.52,80.08 L602.79,78.43 L603.07,76.78 L603.35,75.14 L603.65,73.49 L603.96,71.84 L604.29,70.2 L604.62,68.56 L604.97,66.92 L605.33,65.28 L605.69,63.64 L606.05,62 L606.4,60.36 L606.76,58.72 L607.12,57.08 L607.51,55.45 L607.92,53.82 L608.37,52.2 L608.85,50.59 L609.39,48.99 L609.98,47.41 L610.62,45.84 L611.31,44.27 L612.04,42.72 L612.8,41.18 L613.58,39.64 L614.39,38.1 L615.21,36.58 L616.04,35.05 L616.9,33.55 L617.79,32.06 L618.74,30.6 L619.77,29.19 L620.88,27.83 L622.09,26.53 L623.4,25.29 L624.79,24.12 L626.26,23 L627.8,21.96 L629.4,20.98 L631.06,20.09 L632.78,19.27 L634.55,18.51 L636.36,17.83 L638.21,17.21 L640.08,16.64 L641.98,16.14 L643.9,15.68 L645.83,15.27 L647.78,14.89 L649.73,14.54 L651.69,14.21 L653.65,13.89 L655.62,13.59 L657.59,13.28 L659.56,12.99 L661.53,12.7 L663.5,12.43 L665.48,12.16 L667.45,11.91 L669.43,11.68 L671.41,11.47 L673.4,11.27 L675.38,11.08 L677.37,10.9 L679.36,10.74 L681.34,10.59 L683.32,10.45 L685.29,10.32 L687.21,10.2 L689.06,10.09 L690.78,10.01 L692.32,9.93 L693.35,9.89" fill="none" stroke="#c45ff0" stroke-width="2.7" stroke-linejoin="round"/>
<path d="M412,232 L599.2,232" fill="none" stroke="#9c1c0a" stroke-width="2.7"/>
<path transform="scale(1.0,1.2)" d="M596.2,193.33 L599.2,193.33 L601.19,193.26 L602.98,192.92 L604.3,192 L605.21,190.49 L605.91,188.81 L606.48,187.17 L606.97,185.54 L607.37,183.91 L607.71,182.26 L607.98,180.62 L608.22,178.96 L608.43,177.3 L608.64,175.64 L608.85,173.98 L609.06,172.32 L609.26,170.67 L609.46,169.01 L609.66,167.35 L609.86,165.69 L610.05,164.03 L610.25,162.37 L610.44,160.71 L610.64,159.06 L610.83,157.4 L611.01,155.74 L611.2,154.08 L611.37,152.42 L611.54,150.76 L611.71,149.1 L611.86,147.43 L612.02,145.77 L612.16,144.11 L612.31,142.45 L612.44,140.79 L612.58,139.12 L612.71,137.46 L612.84,135.8 L612.97,134.13 L613.09,132.47 L613.22,130.81 L613.34,129.14 L613.47,127.48 L613.59,125.81 L613.71,124.15 L613.84,122.49 L613.96,120.82 L614.09,119.16 L614.21,117.5 L614.34,115.83 L614.48,114.17 L614.61,112.51 L614.75,110.85 L614.9,109.18 L615.04,107.52 L615.19,105.86 L615.35,104.2 L615.5,102.54 L615.66,100.87 L615.82,99.21 L615.99,97.55 L616.15,95.89 L616.32,94.23 L616.49,92.57 L616.66,90.91 L616.84,89.25 L617.02,87.59 L617.2,85.93 L617.39,84.27 L617.58,82.61 L617.77,80.95 L617.97,79.29 L618.18,77.63 L618.39,75.97 L618.6,74.32 L618.82,72.66 L619.06,71.01 L619.3,69.35 L619.54,67.7 L619.8,66.05 L620.06,64.39 L620.32,62.74 L620.57,61.09 L620.81,59.43 L621.05,57.78 L621.31,56.12 L621.59,54.48 L621.91,52.84 L622.29,51.22 L622.74,49.6 L623.23,48 L623.75,46.39 L624.27,44.78 L624.78,43.17 L625.27,41.55 L625.76,39.93 L626.26,38.32 L626.8,36.72 L627.38,35.13 L628.01,33.56 L628.69,32 L629.41,30.45 L630.18,28.92 L630.99,27.4 L631.87,25.91 L632.82,24.46 L633.87,23.07 L635.02,21.74 L636.3,20.5 L637.69,19.35 L639.19,18.31 L640.8,17.38 L642.5,16.56 L644.27,15.86 L646.11,15.26 L647.99,14.74 L649.91,14.31 L651.85,13.93 L653.81,13.6 L655.78,13.31 L657.75,13.05 L659.73,12.8 L661.71,12.58 L663.7,12.36 L665.68,12.16 L667.67,11.97 L669.66,11.8 L671.65,11.62 L673.64,11.46 L675.63,11.3 L677.62,11.15 L679.61,11 L681.59,10.86 L683.56,10.73 L685.48,10.61 L687.33,10.5 L689.05,10.39 L690.58,10.31 L691.88,10.24" fill="none" stroke="#c02a34" stroke-width="2.2" stroke-linejoin="round"/>
<path d="M412,232 L601.6,232" fill="none" stroke="#9c1c0a" stroke-width="2.7"/>
<path transform="scale(1.0,1.2)" d="M598.6,193.33 L601.6,193.33 L603.59,193.26 L605.39,192.92 L606.71,192.01 L607.64,190.51 L608.36,188.83 L608.95,187.2 L609.45,185.57 L609.86,183.94 L610.21,182.29 L610.49,180.65 L610.73,178.99 L610.95,177.33 L611.16,175.67 L611.38,174.02 L611.59,172.36 L611.8,170.7 L612,169.04 L612.21,167.38 L612.41,165.73 L612.61,164.07 L612.81,162.41 L613.01,160.75 L613.21,159.09 L613.41,157.43 L613.6,155.77 L613.78,154.12 L613.96,152.46 L614.14,150.8 L614.3,149.14 L614.46,147.47 L614.62,145.81 L614.76,144.15 L614.91,142.49 L615.05,140.83 L615.18,139.16 L615.32,137.5 L615.45,135.84 L615.57,134.17 L615.7,132.51 L615.82,130.85 L615.95,129.18 L616.07,127.52 L616.19,125.85 L616.31,124.19 L616.44,122.53 L616.56,120.86 L616.69,119.2 L616.81,117.54 L616.94,115.87 L617.08,114.21 L617.21,112.55 L617.35,110.88 L617.49,109.22 L617.64,107.56 L617.79,105.9 L617.94,104.24 L618.1,102.58 L618.26,100.91 L618.42,99.25 L618.58,97.59 L618.75,95.93 L618.91,94.27 L619.09,92.61 L619.26,90.95 L619.43,89.29 L619.61,87.63 L619.8,85.96 L619.98,84.3 L620.17,82.65 L620.37,80.99 L620.57,79.33 L620.77,77.67 L620.98,76.01 L621.2,74.36 L621.42,72.7 L621.65,71.05 L621.89,69.39 L622.14,67.74 L622.39,66.09 L622.65,64.43 L622.91,62.78 L623.16,61.13 L623.41,59.47 L623.64,57.82 L623.89,56.16 L624.14,54.51 L624.42,52.86 L624.74,51.22 L625.1,49.58 L625.49,47.95 L625.92,46.32 L626.35,44.69 L626.8,43.06 L627.26,41.44 L627.74,39.82 L628.24,38.2 L628.79,36.61 L629.38,35.02 L630.03,33.45 L630.72,31.9 L631.45,30.35 L632.22,28.82 L633.04,27.31 L633.92,25.82 L634.88,24.38 L635.94,22.98 L637.1,21.66 L638.38,20.42 L639.78,19.28 L641.29,18.25 L642.9,17.32 L644.61,16.52 L646.39,15.82 L648.22,15.22 L650.11,14.71 L652.03,14.28 L653.97,13.91 L655.93,13.58 L657.9,13.29 L659.87,13.03 L661.85,12.79 L663.84,12.56 L665.82,12.35 L667.81,12.15 L669.79,11.96 L671.78,11.78 L673.77,11.61 L675.76,11.45 L677.75,11.29 L679.74,11.14 L681.74,10.99 L683.73,10.86 L685.72,10.72 L687.72,10.6 L689.71,10.48 L691.7,10.36 L693.7,10.26 L695.19,10.18" fill="none" stroke="#9c1c0a" stroke-width="3.2" stroke-linejoin="round"/>
<path d="M511.6,232 L605.6,232" fill="none" stroke="#52e00c" stroke-width="2.7"/>
<path transform="scale(1.0,1.2)" d="M602.6,193.33 L605.6,193.33 L607.59,193.26 L609.38,192.92 L610.7,192 L611.61,190.49 L612.31,188.81 L612.88,187.17 L613.37,185.54 L613.77,183.91 L614.11,182.26 L614.38,180.62 L614.62,178.96 L614.83,177.3 L615.04,175.64 L615.25,173.98 L615.46,172.32 L615.66,170.67 L615.86,169.01 L616.06,167.35 L616.26,165.69 L616.45,164.03 L616.65,162.37 L616.85,160.71 L617.04,159.06 L617.23,157.4 L617.42,155.74 L617.6,154.08 L617.77,152.42 L617.94,150.76 L618.1,149.1 L618.26,147.43 L618.41,145.77 L618.55,144.11 L618.69,142.45 L618.82,140.78 L618.95,139.12 L619.08,137.46 L619.21,135.79 L619.33,134.13 L619.45,132.47 L619.57,130.8 L619.69,129.14 L619.81,127.47 L619.92,125.81 L620.04,124.15 L620.16,122.48 L620.28,120.82 L620.4,119.15 L620.53,117.49 L620.66,115.83 L620.79,114.16 L620.92,112.5 L621.06,110.84 L621.2,109.18 L621.34,107.52 L621.49,105.85 L621.65,104.19 L621.81,102.53 L621.97,100.87 L622.13,99.21 L622.3,97.55 L622.47,95.89 L622.64,94.23 L622.82,92.56 L623,90.9 L623.18,89.24 L623.37,87.58 L623.56,85.92 L623.76,84.26 L623.96,82.6 L624.16,80.95 L624.37,79.29 L624.59,77.63 L624.82,75.98 L625.05,74.32 L625.29,72.67 L625.54,71.01 L625.79,69.36 L626.06,67.71 L626.32,66.06 L626.58,64.41 L626.81,62.76 L627.03,61.1 L627.23,59.44 L627.43,57.79 L627.65,56.13 L627.89,54.48 L628.17,52.83 L628.49,51.18 L628.83,49.54 L629.2,47.89 L629.58,46.25 L629.97,44.6 L630.37,42.95 L630.77,41.3 L631.2,39.67 L631.68,38.06 L632.22,36.48 L632.83,34.92 L633.48,33.39 L634.16,31.87 L634.85,30.33 L635.54,28.8 L636.24,27.26 L636.98,25.73 L637.81,24.24 L638.77,22.82 L639.86,21.48 L641.11,20.23 L642.49,19.09 L644,18.06 L645.63,17.15 L647.34,16.36 L649.13,15.68 L650.98,15.1 L652.87,14.61 L654.8,14.19 L656.74,13.83 L658.71,13.52 L660.68,13.24 L662.66,12.99 L664.64,12.76 L666.62,12.55 L668.61,12.35 L670.6,12.16 L672.58,11.99 L674.57,11.82 L676.56,11.65 L678.55,11.49 L680.55,11.34 L682.54,11.19 L684.53,11.05 L686.52,10.91 L688.52,10.78 L690.51,10.66 L692.5,10.54 L694.48,10.43" fill="none" stroke="#52e00c" stroke-width="2.7" stroke-linejoin="round"/>
<path d="M541.9,232 L619,232" fill="none" stroke="#f2326a" stroke-width="2.8"/>
<path transform="scale(1.0,1.25)" d="M617.5,185.84 L619,185.84 L619.33,184.02 L619.66,182.44 L619.99,180.87 L620.32,179.29 L620.64,177.71 L620.98,176.13 L621.33,174.55 L621.7,172.98 L622.08,171.4 L622.42,169.83 L622.72,168.25 L622.93,166.66 L623.09,165.07 L623.22,163.48 L623.34,161.88 L623.44,160.28 L623.54,158.68 L623.63,157.08 L623.72,155.48 L623.8,153.88 L623.88,152.28 L623.96,150.68 L624.04,149.09 L624.12,147.49 L624.2,145.89 L624.27,144.29 L624.34,142.69 L624.42,141.09 L624.49,139.49 L624.56,137.89 L624.63,136.29 L624.7,134.69 L624.77,133.1 L624.84,131.5 L624.91,129.9 L624.99,128.3 L625.06,126.7 L625.13,125.1 L625.2,123.5 L625.27,121.9 L625.34,120.3 L625.41,118.7 L625.49,117.1 L625.56,115.5 L625.63,113.9 L625.71,112.3 L625.79,110.7 L625.87,109.11 L625.96,107.51 L626.05,105.91 L626.16,104.31 L626.27,102.72 L626.39,101.12 L626.52,99.53 L626.66,97.93 L626.82,96.34 L626.99,94.75 L627.18,93.15 L627.38,91.56 L627.59,89.97 L627.81,88.38 L628.03,86.79 L628.25,85.2 L628.48,83.61 L628.71,82.02 L628.94,80.43 L629.18,78.84 L629.41,77.25 L629.65,75.66 L629.9,74.07 L630.14,72.48 L630.38,70.89 L630.63,69.31 L630.87,67.72 L631.11,66.13 L631.34,64.54 L631.56,62.95 L631.77,61.36 L631.96,59.77 L632.14,58.17 L632.31,56.58 L632.46,54.98 L632.62,53.39 L632.79,51.8 L632.99,50.21 L633.21,48.62 L633.48,47.03 L633.78,45.45 L634.12,43.88 L634.49,42.31 L634.89,40.74 L635.32,39.18 L635.78,37.62 L636.28,36.07 L636.83,34.54 L637.44,33.02 L638.11,31.52 L638.85,30.04 L639.66,28.59 L640.55,27.17 L641.52,25.78 L642.57,24.42 L643.7,23.12 L644.92,21.87 L646.23,20.69 L647.64,19.59 L649.14,18.57 L650.73,17.64 L652.4,16.81 L654.14,16.06 L655.94,15.39 L657.78,14.8 L659.66,14.27 L661.56,13.8 L663.49,13.37 L665.43,13 L667.38,12.66 L669.34,12.37 L671.31,12.1 L673.29,11.86 L675.27,11.65 L677.26,11.46 L679.24,11.29 L681.23,11.13 L683.22,10.98 L685.19,10.85 L687.14,10.72 L689.04,10.61 L690.87,10.51 L692.6,10.42 L693.81,10.37" fill="none" stroke="#f2326a" stroke-width="2.8" stroke-linejoin="miter"/>
<rect x="412.1" y="7.4" width="282.1" height="227.8" fill="none" stroke="#000" stroke-width="1.7"/>
<text x="407.2" y="236.7" font-size="17" text-anchor="end" fill="#000" stroke="#000" stroke-width="0.4" textLength="22.6" lengthAdjust="spacingAndGlyphs" >0.0</text>
<text x="407.2" y="161.83" font-size="17" text-anchor="end" fill="#000" stroke="#000" stroke-width="0.4" textLength="22.6" lengthAdjust="spacingAndGlyphs" >0.2</text>
<text x="407.2" y="86.97" font-size="17" text-anchor="end" fill="#000" stroke="#000" stroke-width="0.4" textLength="22.6" lengthAdjust="spacingAndGlyphs" >0.4</text>
<text x="407.2" y="12.1" font-size="17" text-anchor="end" fill="#000" stroke="#000" stroke-width="0.4" textLength="22.6" lengthAdjust="spacingAndGlyphs" >0.6</text>
<text x="452.9" y="253.7" font-size="16.4" text-anchor="middle" fill="#000" stroke="#000" stroke-width="0.4" >9</text>
<text x="513.35" y="253.7" font-size="16.4" text-anchor="middle" fill="#000" stroke="#000" stroke-width="0.4" textLength="16.6" lengthAdjust="spacingAndGlyphs" >12</text>
<text x="573.8" y="253.7" font-size="16.4" text-anchor="middle" fill="#000" stroke="#000" stroke-width="0.4" textLength="16.6" lengthAdjust="spacingAndGlyphs" >15</text>
<text x="634.25" y="253.7" font-size="16.4" text-anchor="middle" fill="#000" stroke="#000" stroke-width="0.4" textLength="16.6" lengthAdjust="spacingAndGlyphs" >18</text>
<text x="694.7" y="253.7" font-size="16.4" text-anchor="middle" fill="#000" stroke="#000" stroke-width="0.4" textLength="16.6" lengthAdjust="spacingAndGlyphs" >21</text>
<text x="547.3" y="272" font-size="17.2" text-anchor="middle" fill="#000" stroke="#000" stroke-width="0.4" textLength="114" lengthAdjust="spacingAndGlyphs" >Temperature(K)</text>
<g transform="translate(381.8,153.6) rotate(-90)">
<text x="0" y="0" font-size="12.5" text-anchor="start" fill="#000" stroke="#000" stroke-width="0.15" >ρ</text>
</g>
<g transform="translate(383.4,146) rotate(-90)">
<text x="0" y="0" font-size="19.5" text-anchor="start" fill="#000" stroke="#000" stroke-width="0.0" textLength="20.2" lengthAdjust="spacingAndGlyphs" >(m</text>
</g>
<g transform="translate(383.4,124.4) rotate(-90)">
<text x="0" y="0" font-size="19.5" text-anchor="start" fill="#000" stroke="#000" stroke-width="0.0" textLength="10.8" lengthAdjust="spacingAndGlyphs" >Ω</text>
</g>
<g transform="translate(383.4,112) rotate(-90)">
<text x="0" y="0" font-size="19.5" text-anchor="start" fill="#000" stroke="#000" stroke-width="0.0" textLength="26.8" lengthAdjust="spacingAndGlyphs" >cm)</text>
</g>
<text x="419" y="25" font-size="19.4" text-anchor="start" fill="#000" stroke="#000" stroke-width="0.4" textLength="64.4" lengthAdjust="spacingAndGlyphs" >(b)BaFe</text>
<text x="484.6" y="33.6" font-size="10.4" text-anchor="start" fill="#000" stroke="#000" stroke-width="0.3" textLength="15" lengthAdjust="spacingAndGlyphs" >1.9</text>
<text x="498.8" y="25" font-size="19.4" text-anchor="start" fill="#000" stroke="#000" stroke-width="0.4" textLength="18" lengthAdjust="spacingAndGlyphs" >Ni</text>
<text x="516.8" y="33.6" font-size="10.4" text-anchor="start" fill="#000" stroke="#000" stroke-width="0.3" textLength="13.6" lengthAdjust="spacingAndGlyphs" >0.1</text>
<text x="531" y="25" font-size="19.4" text-anchor="start" fill="#000" stroke="#000" stroke-width="0.4" textLength="21.4" lengthAdjust="spacingAndGlyphs" >As</text>
<text x="552.6" y="33.6" font-size="10.4" text-anchor="start" fill="#000" stroke="#000" stroke-width="0.3" textLength="5.8" lengthAdjust="spacingAndGlyphs" >2</text>
<text x="418.6" y="56.5" font-size="19.4" text-anchor="start" fill="#000" stroke="#000" stroke-width="0.4" textLength="33" lengthAdjust="spacingAndGlyphs" >HIIc</text>
<line x1="634.9" y1="197.3" x2="511.49" y2="154.36" stroke="#000" stroke-width="1.3" />
<polygon points="497.8,149.6 514.94,150.54 511.82,159.51" fill="#000"/>
<text x="626" y="218.6" font-size="20.6" text-anchor="start" fill="#000" stroke="#000" stroke-width="0.4" textLength="66.6" lengthAdjust="spacingAndGlyphs" >0.1-13T</text>
<rect x="436.7" y="60.2" width="78" height="63.6" fill="#fff" stroke="#1a1a1a" stroke-width="1.1"/>
<line x1="462.7" y1="123.8" x2="462.7" y2="121.8" stroke="#1a1a1a" stroke-width="0.8" />
<line x1="488.7" y1="123.8" x2="488.7" y2="121.8" stroke="#1a1a1a" stroke-width="0.8" />
<line x1="449.7" y1="123.8" x2="449.7" y2="122.6" stroke="#1a1a1a" stroke-width="0.7" />
<line x1="475.7" y1="123.8" x2="475.7" y2="122.6" stroke="#1a1a1a" stroke-width="0.7" />
<line x1="501.7" y1="123.8" x2="501.7" y2="122.6" stroke="#1a1a1a" stroke-width="0.7" />
<line x1="436.7" y1="120.4" x2="438.7" y2="120.4" stroke="#1a1a1a" stroke-width="0.8" />
<line x1="436.7" y1="107.4" x2="438.7" y2="107.4" stroke="#1a1a1a" stroke-width="0.8" />
<line x1="436.7" y1="94.4" x2="438.7" y2="94.4" stroke="#1a1a1a" stroke-width="0.8" />
<line x1="436.7" y1="81.4" x2="438.7" y2="81.4" stroke="#1a1a1a" stroke-width="0.8" />
<line x1="436.7" y1="68.4" x2="438.7" y2="68.4" stroke="#1a1a1a" stroke-width="0.8" />
<text x="434.9" y="123.1" font-size="7.8" text-anchor="end" fill="#111" stroke="#111" stroke-width="0.4" textLength="8.2" lengthAdjust="spacingAndGlyphs" >0.0</text>
<text x="434.9" y="110.1" font-size="7.8" text-anchor="end" fill="#111" stroke="#111" stroke-width="0.4" textLength="8.2" lengthAdjust="spacingAndGlyphs" >0.3</text>
<text x="434.9" y="97.1" font-size="7.8" text-anchor="end" fill="#111" stroke="#111" stroke-width="0.4" textLength="8.2" lengthAdjust="spacingAndGlyphs" >0.6</text>
<text x="434.9" y="84.1" font-size="7.8" text-anchor="end" fill="#111" stroke="#111" stroke-width="0.4" textLength="8.2" lengthAdjust="spacingAndGlyphs" >0.9</text>
<text x="434.9" y="71.1" font-size="7.8" text-anchor="end" fill="#111" stroke="#111" stroke-width="0.4" textLength="8.2" lengthAdjust="spacingAndGlyphs" >1.2</text>
<text x="436.5" y="131.5" font-size="7.8" text-anchor="middle" fill="#111" stroke="#111" stroke-width="0.3" >0</text>
<text x="462.5" y="131.5" font-size="7.8" text-anchor="middle" fill="#111" stroke="#111" stroke-width="0.3" textLength="10.6" lengthAdjust="spacingAndGlyphs" >100</text>
<text x="488.5" y="131.5" font-size="7.8" text-anchor="middle" fill="#111" stroke="#111" stroke-width="0.3" textLength="10.6" lengthAdjust="spacingAndGlyphs" >200</text>
<text x="514.5" y="131.5" font-size="7.8" text-anchor="middle" fill="#111" stroke="#111" stroke-width="0.3" textLength="10.6" lengthAdjust="spacingAndGlyphs" >300</text>
<text x="475.9" y="140.8" font-size="10.6" text-anchor="middle" fill="#111" stroke="#111" stroke-width="0.3" textLength="16.6" lengthAdjust="spacingAndGlyphs" >T(K)</text>
<g transform="translate(421.6,115.8) rotate(-90)">
<text x="0" y="0" font-size="7" text-anchor="start" fill="#111" stroke="#111" stroke-width="0.2" >ρ</text>
</g>
<g transform="translate(422,111.4) rotate(-90)">
<text x="0" y="0" font-size="11.6" text-anchor="start" fill="#111" stroke="#111" stroke-width="0.2" textLength="34.6" lengthAdjust="spacingAndGlyphs" >(mΩcm)</text>
</g>
<text x="439.6" y="70.8" font-size="8.2" text-anchor="start" fill="#111" stroke="#111" stroke-width="0.35" textLength="17.8" lengthAdjust="spacingAndGlyphs" >BaFe</text>
<text x="458" y="73.6" font-size="5.2" text-anchor="start" fill="#111" stroke="#111" stroke-width="0.25" textLength="5.6" lengthAdjust="spacingAndGlyphs" >1.9</text>
<text x="464" y="70.8" font-size="8.2" text-anchor="start" fill="#111" stroke="#111" stroke-width="0.35" textLength="5.8" lengthAdjust="spacingAndGlyphs" >Ni</text>
<text x="470.2" y="73.6" font-size="5.2" text-anchor="start" fill="#111" stroke="#111" stroke-width="0.25" textLength="5.4" lengthAdjust="spacingAndGlyphs" >0.1</text>
<text x="476" y="70.8" font-size="8.2" text-anchor="start" fill="#111" stroke="#111" stroke-width="0.35" textLength="8.9" lengthAdjust="spacingAndGlyphs" >As</text>
<text x="485.3" y="73.6" font-size="5.2" text-anchor="start" fill="#111" stroke="#111" stroke-width="0.25" >2</text>
<text x="439.6" y="82.8" font-size="8.6" text-anchor="start" fill="#111" stroke="#111" stroke-width="0.35" textLength="13.6" lengthAdjust="spacingAndGlyphs" >HIIc</text>
<path d="M439.6,120.5 L441,120.5 L441.2,97 L442.2,95.6" fill="none" stroke="#c41428" stroke-width="1.4" stroke-linejoin="miter" />
<path d="M441.2,97 L441.6,95.8 L442.2,94.61 L445.82,93.64 L449.44,92.62 L453.06,91.56 L456.68,90.45 L460.3,89.3 L463.92,88.11 L467.54,86.87 L471.16,85.59 L474.78,84.26 L478.4,82.89 L482.02,81.48 L485.64,80.02 L489.26,78.52 L492.88,76.98 L496.5,75.39 L500.12,73.76 L503.74,72.08 L507.36,70.36 L510.98,68.6 L514.6,66.79" fill="none" stroke="#c41428" stroke-width="1.4" stroke-linejoin="miter" />
<text x="467.6" y="103.4" font-size="9.8" text-anchor="start" fill="#111" stroke="#111" stroke-width="0.4" textLength="5.8" lengthAdjust="spacingAndGlyphs" >T</text>
<text x="473.2" y="98.2" font-size="6" text-anchor="start" fill="#111" stroke="#111" stroke-width="0.25" textLength="13.2" lengthAdjust="spacingAndGlyphs" >onset</text>
<text x="473.2" y="107.6" font-size="6" text-anchor="start" fill="#111" stroke="#111" stroke-width="0.25" >c</text>
<text x="486.4" y="103.4" font-size="9.8" text-anchor="start" fill="#111" stroke="#111" stroke-width="0.4" textLength="28.2" lengthAdjust="spacingAndGlyphs" >=19.4K</text>
<text x="467.6" y="120.4" font-size="9.8" text-anchor="start" fill="#111" stroke="#111" stroke-width="0.4" textLength="5.8" lengthAdjust="spacingAndGlyphs" >T</text>
<text x="473.2" y="115.6" font-size="6" text-anchor="start" fill="#111" stroke="#111" stroke-width="0.25" textLength="9.8" lengthAdjust="spacingAndGlyphs" >zero</text>
<text x="473.2" y="124.4" font-size="6" text-anchor="start" fill="#111" stroke="#111" stroke-width="0.25" >c</text>
<text x="483.2" y="120.4" font-size="9.8" text-anchor="start" fill="#111" stroke="#111" stroke-width="0.4" textLength="28.2" lengthAdjust="spacingAndGlyphs" >=17.6K</text>
</g>
</svg>
</body>
</html>
